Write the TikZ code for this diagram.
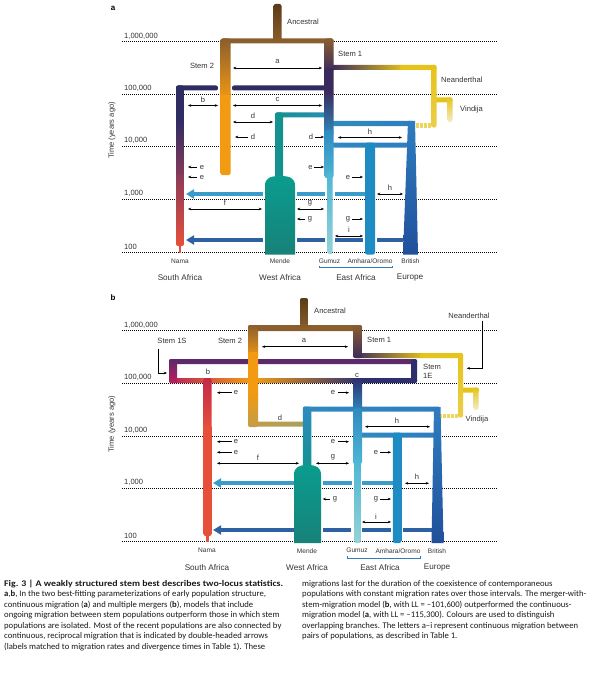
\documentclass[tikz,border=0pt]{standalone}
\usepackage{fontspec}
\setmainfont{Liberation Sans}
\newfontfamily\capfont{Carlito}
\usetikzlibrary{arrows.meta}

\definecolor{ancdark}{HTML}{5C3A18}
\definecolor{ancbrown}{HTML}{8B5E2E}
\definecolor{stemorange}{HTML}{F29A12}
\definecolor{stemone}{HTML}{3A2B5C}
\definecolor{navy}{HTML}{2F2C62}
\definecolor{midblue}{HTML}{2F8AC0}
\definecolor{skyblue}{HTML}{4DB6D4}
\definecolor{gumuzlight}{HTML}{94D2D8}
\definecolor{neanyellow}{HTML}{E6C319}
\definecolor{vindpale}{HTML}{F3EDC6}
\definecolor{namared}{HTML}{E6503A}
\definecolor{namamid}{HTML}{8C3B58}
\definecolor{mendeteal}{HTML}{13928F}
\definecolor{mendeblue}{HTML}{2A8DB6}
\definecolor{mendebulb}{HTML}{0A9C8E}
\definecolor{mendedark}{HTML}{178279}
\definecolor{britblue}{HTML}{2E7DC0}
\definecolor{britdark}{HTML}{21509B}
\definecolor{amharablue}{HTML}{1E8CC2}
\definecolor{flowlight}{HTML}{3A9CC8}
\definecolor{flowdark}{HTML}{2D61A2}
\definecolor{magentab}{HTML}{BE1D5C}
\definecolor{crimsonb}{HTML}{C42848}
\definecolor{purpleb}{HTML}{5C2A6B}
\definecolor{navyb}{HTML}{2E2F6E}
\definecolor{goldb}{HTML}{C49C48}
\definecolor{oliveb}{HTML}{A7A25A}
\definecolor{labgray}{HTML}{333333}

% branches: x, ytop, ybot, width, top colour, bottom colour
\newcommand{\vbranch}[6]{\shade[top color=#5,bottom color=#6,rounded corners=2bp] ({#1-#4/2},#2) rectangle ({#1+#4/2},#3);}
% y, xleft, xright, width, left colour, right colour
\newcommand{\hbranch}[6]{\shade[left color=#5,right color=#6,rounded corners=2bp] (#2,{#1-#4/2}) rectangle (#3,{#1+#4/2});}
% xleft, xright, ytop, ybot
\newcommand{\bulb}[4]{\shade[top color=mendebulb,bottom color=mendedark] (#1,#4) -- (#1,{#3+10}) .. controls (#1,{#3+2}) and ({#1+5},#3) .. ({(#1+#2)/2},#3) .. controls ({#2-5},#3) and (#2,{#3+2}) .. (#2,{#3+10}) -- (#2,#4) -- cycle;}

\tikzset{
  timeline/.style={line width=0.7bp, dash pattern=on 0.9bp off 1.1bp},
  mig/.style={line width=0.6bp, {Stealth[length=3.2bp,width=2.6bp]}-{Stealth[length=3.2bp,width=2.6bp]}},
  migin/.style={line width=0.6bp, -{Stealth[length=3.2bp,width=2.6bp]}},
  flow/.style={line width=4bp, -{Triangle[length=8bp,width=9bp]}},
  lbl/.style={font=\fontsize{7.6}{8}\selectfont, text=labgray, inner sep=0pt},
  poplbl/.style={font=\fontsize{6.6}{7}\selectfont, text=labgray, inner sep=0pt},
  reglbl/.style={font=\fontsize{8.2}{9}\selectfont, text=labgray, inner sep=0pt},
  panel/.style={font=\bfseries\fontsize{8}{8}\selectfont, inner sep=0pt},
  capline/.style={font=\capfont\fontsize{8.7}{9}\selectfont, text=black!90, anchor=west, inner sep=0pt}
}

\begin{document}
\begin{tikzpicture}[x=1bp,y=-1bp]
\useasboundingbox (0,0) rectangle (609,673);

%%% panel a
\node[panel] (pa) at (113,8) {a};
\foreach \yy/\lab in {41.7/{1,000,000},94.3/{100,000},146/{10,000},199.3/{1,000},252.7/{100}} {
  \draw[timeline] (122,\yy) -- (497,\yy);
  \node[lbl, anchor=west] at (124,\yy-5.5) {\lab};
}
\node[lbl, rotate=90] (tya) at (112,130.5) {Time (years ago)};

% migration flows
\draw[flowlight, line width=4bp] (365,194) -- (335,194) (325,194) -- (297,194);
\draw[flow, flowlight] (263,194) -- (186,194);
\draw[flowdark, line width=4bp] (403,240) -- (377,240) (363,240) -- (335,240) (325,240) -- (297,240);
\draw[flow, flowdark] (263,240) -- (186,240);

% horizontal bars
\hbranch{41}{221}{333.5}{5}{ancbrown}{ancbrown}
\hbranch{67.5}{331}{405}{5}{stemone}{neanyellow}
\hbranch{67.5}{400}{436.5}{5}{neanyellow}{neanyellow}
\hbranch{100}{432}{452.5}{5}{neanyellow}{neanyellow}
\draw[neanyellow!70!white, line width=4bp, dash pattern=on 3bp off 1bp] (431,125.5) -- (413,125.5);
\hbranch{88}{176}{218}{5}{navy}{navy}
\hbranch{88}{232}{331}{5}{navy}{navy}
\hbranch{115}{275}{328}{5}{mendeteal}{mendeblue}
\hbranch{123.5}{332}{414}{5}{midblue}{britblue}
\hbranch{145}{332}{408}{5}{midblue}{britblue}

% vertical lineages
\vbranch{277.5}{4}{42}{8}{ancdark}{ancbrown}
\vbranch{225.5}{38.5}{100}{10}{ancbrown}{stemorange}
\vbranch{225.5}{95}{175}{10}{stemorange}{stemorange}
\vbranch{329}{38.5}{72}{9}{ancbrown}{stemone}
\vbranch{329}{68}{96}{9}{stemone}{stemone}
\vbranch{329}{92}{135}{9}{stemone}{midblue}
\vbranch{329}{130}{178}{9}{midblue}{skyblue}
\vbranch{330}{172}{254}{5}{skyblue}{gumuzlight}
\vbranch{434}{65}{127.5}{5}{neanyellow}{neanyellow!80!white}
\vbranch{450}{97.5}{122}{5}{neanyellow}{vindpale}
\vbranch{180}{85.5}{125}{8}{navy}{navy}
\vbranch{180}{120}{180}{8}{navy}{namamid}
\vbranch{180}{175}{246}{8}{namamid}{namared}
\fill[namared] (178.7,244) rectangle (181.3,253);
\vbranch{279}{112.5}{182}{8}{mendeteal}{mendeteal}
\bulb{265}{295}{176}{254.5}
\vbranch{370}{142.5}{254.5}{10}{amharablue}{amharablue}
\shade[top color=britblue, bottom color=britdark] (408,121) -- (415,121) -- (418,254.5) -- (403,254.5) -- cycle;

% small migration arrows
\draw[mig] (233,68) -- (322,68);      \node[lbl] (ma) at (277.5,62) {a};
\draw[mig] (188,105.5) -- (218,105.5); \node[lbl] (mb) at (203,99.5) {b};
\draw[mig] (233,105.5) -- (322,105.5); \node[lbl] (mc) at (277.5,99.5) {c};
\draw[mig] (233,122) -- (273,122);    \node[lbl] (md1) at (253,116) {d};
\draw[migin] (248,137) -- (235,137);  \node[lbl] (md2) at (253,137) {d};
\draw[migin] (315,137) -- (324,137);  \node[lbl] (md3) at (311,137) {d};
\draw[mig] (338,137.5) -- (402,137.5); \node[lbl] (mh1) at (370,131.5) {h};
\draw[migin] (197,167) -- (188,167);  \node[lbl] (me1) at (202,167) {e};
\draw[migin] (197,177) -- (188,177);  \node[lbl] (me2) at (202,177) {e};
\draw[migin] (314,167) -- (324,167);  \node[lbl] (me3) at (310.5,167) {e};
\draw[migin] (352,177) -- (363,177);  \node[lbl] (me4) at (348,177) {e};
\draw[mig] (377,194) -- (403,194);    \node[lbl] (mh2) at (390,187.5) {h};
\draw[mig] (188,209) -- (262,209);    \node[lbl] (mf) at (225,203) {f};
\draw[mig] (297,209) -- (324,209);    \node[lbl] (mg1) at (310,203) {g};
\draw[migin] (305,219) -- (297,219);  \node[lbl] (mg2) at (310,219) {g};
\draw[migin] (352,219) -- (363,219);  \node[lbl] (mg3) at (348,219) {g};
\draw[mig] (335,236) -- (363,236);    \node[lbl] (mi) at (349,230) {i};

% names
\node[lbl, anchor=west] (anca) at (287,22) {Ancestral};
\node[lbl, anchor=west] (s1a) at (338,54) {Stem 1};
\node[lbl] (s2a) at (202,66) {Stem 2};
\node[lbl, anchor=west] (neaa) at (441,80) {Neanderthal};
\node[lbl, anchor=west] (vina) at (460,110) {Vindija};
\node[poplbl] (namaa) at (180,261) {Nama};
\node[poplbl] (mendea) at (280,261) {Mende};
\node[poplbl] (gumuza) at (329.5,261) {Gumuz};
\node[poplbl] (amha) at (370,261) {Amhara/Oromo};
\node[poplbl] (brita) at (410.5,261) {British};
\draw[britblue, line width=0.6bp] (319,265.5) -- (319,267.3) -- (392.5,267.3) -- (392.5,265.5);
\node[reglbl] (safa) at (180,277.7) {South Africa};
\node[reglbl] (wafa) at (280,277.7) {West Africa};
\node[reglbl] (eafa) at (356,277.7) {East Africa};
\node[reglbl] (eura) at (410,277.7) {Europe};

%%% panel b
\node[panel] (pb) at (113,298) {b};
\foreach \yy/\lab in {330.7/{1,000,000},383.3/{100,000},436/{10,000},488.3/{1,000},541.7/{100}} {
  \draw[timeline] (122,\yy) -- (497,\yy);
  \node[lbl, anchor=west] at (124,\yy-5.5) {\lab};
}
\node[lbl, rotate=90] (tyb) at (112,424) {Time (years ago)};

% migration flows
\draw[flowlight, line width=4bp] (393,483) -- (362,483) (352,483) -- (323,483);
\draw[flow, flowlight] (294,483) -- (213,483);
\draw[flowdark, line width=4bp] (432,530) -- (403,530) (390.5,530) -- (362,530) (351,530) -- (323,530);
\draw[flow, flowdark] (294,530) -- (213,530);

% horizontal bars
\hbranch{361.5}{169}{417}{5}{purpleb}{purpleb}
\hbranch{380.5}{169}{250}{5}{magentab}{stemorange}
\hbranch{380.5}{256}{360}{5}{stemorange}{navyb}
\hbranch{380.5}{355}{417}{5}{navyb}{navyb}
\hbranch{328}{248}{362}{6}{ancbrown}{ancbrown}
\hbranch{355.5}{354}{425}{5}{stemone}{neanyellow}
\hbranch{355.5}{420}{463}{5}{neanyellow}{neanyellow}
\hbranch{390}{458}{479}{5}{neanyellow}{neanyellow}
\draw[neanyellow!70!white, line width=4bp, dash pattern=on 3bp off 1bp] (458,415.5) -- (440,415.5);
\hbranch{409}{303}{440}{5}{midblue}{britblue}
\hbranch{435}{360}{437}{5}{midblue}{britblue}
\hbranch{424}{248}{305}{5}{goldb}{oliveb}

% vertical lineages
\vbranch{173}{359}{383}{8}{purpleb}{magentab}
\vbranch{414}{359}{383}{6}{navyb}{navyb}
\vbranch{304}{298}{329}{8}{ancdark}{ancbrown}
\vbranch{253}{325}{358}{10}{ancbrown}{stemorange}
\vbranch{253}{352}{398}{10}{stemorange}{stemorange}
\vbranch{253}{392}{427}{10}{stemorange}{goldb}
\vbranch{357.5}{325}{358}{9}{ancbrown}{stemone}
\vbranch{460.5}{353}{417.5}{5}{neanyellow}{neanyellow!80!white}
\vbranch{476}{387.5}{410}{5}{neanyellow}{vindpale}
\vbranch{207.5}{378}{430}{8}{crimsonb}{namared}
\vbranch{207.5}{425}{536}{8}{namared}{namared}
\fill[namared] (206.2,534) rectangle (208.8,542);
\vbranch{357.5}{378}{412}{9}{navyb}{midblue}
\vbranch{357.5}{408}{464}{9}{midblue}{skyblue}
\vbranch{357.5}{460}{543}{6.5}{skyblue}{gumuzlight}
\vbranch{307}{406.5}{470}{8.5}{midblue}{mendeteal}
\bulb{294}{321}{465}{543}
\vbranch{397}{432.5}{543}{8.5}{amharablue}{amharablue}
\shade[top color=britblue, bottom color=britdark] (434,407) -- (440.5,407) -- (443.5,543) -- (431.5,543) -- cycle;

% small migration arrows
\draw[mig] (262,346.7) -- (348,346.7); \node[lbl] (nba) at (304,340) {a};
\node[lbl] (nbb) at (208,372) {b};
\node[lbl] (nbc) at (357,375.5) {c};
\draw[migin] (232,392.7) -- (217,392.7); \node[lbl] (nbe1) at (236,392.7) {e};
\draw[migin] (338,392.7) -- (349,392.7); \node[lbl] (nbe2) at (333,392.7) {e};
\node[lbl] (nbd) at (280,418) {d};
\draw[mig] (365,426.7) -- (430,426.7); \node[lbl] (nbh1) at (397,421) {h};
\draw[migin] (232,441.7) -- (217,441.7); \node[lbl] (nbe3) at (236,441.7) {e};
\draw[migin] (232,452.3) -- (217,452.3); \node[lbl] (nbe4) at (236,452.3) {e};
\draw[migin] (338,441.7) -- (349,441.7); \node[lbl] (nbe5) at (333,441.7) {e};
\draw[migin] (380,452.3) -- (391,452.3); \node[lbl] (nbe6) at (376,452.3) {e};
\draw[mig] (217,463.3) -- (299,463.3); \node[lbl] (nbf) at (258,457.3) {f};
\draw[mig] (316,463.3) -- (349,463.3); \node[lbl] (nbg1) at (333,457.3) {g};
\draw[mig] (405,483.3) -- (429,483.3); \node[lbl] (nbh2) at (417,476.7) {h};
\draw[migin] (330,499) -- (322.7,499); \node[lbl] (nbg2) at (335,499) {g};
\draw[migin] (380,499) -- (391,499); \node[lbl] (nbg3) at (376,499) {g};
\draw[mig] (362,522) -- (391,522); \node[lbl] (nbi) at (376,516.7) {i};

% names
\node[lbl, anchor=west] (ancb) at (314,311) {Ancestral};
\node[lbl] (s1sb) at (172,340.7) {Stem 1S};
\draw[line width=0.6bp, -{Stealth[length=3.2bp,width=2.6bp]}] (158,349) -- (158,373) -- (167,373);
\node[lbl] (s2b) at (230,340.7) {Stem 2};
\node[lbl, anchor=west] (s1b) at (367,340) {Stem 1};
\node[lbl, anchor=west] (s1eb) at (423,366.7) {Stem};
\node[lbl, anchor=west] (s1eb2) at (423,376) {1E};
\node[lbl] (neab) at (469,315.7) {Neanderthal};
\draw[line width=0.6bp, -{Stealth[length=3.2bp,width=2.6bp]}] (482.7,320.7) -- (482.7,368.3) -- (466.7,368.3);
\node[lbl] (vinb) at (477,420) {Vindija};
\node[poplbl] (namab) at (207,550.7) {Nama};
\node[poplbl] (mendeb) at (307,550.7) {Mende};
\node[poplbl] (gumuzb) at (357,550.7) {Gumuz};
\node[poplbl] (amhb) at (398,550.7) {Amhara/Oromo};
\node[poplbl] (britb) at (437,550.7) {British};
\draw[britblue, line width=0.6bp] (347,556.2) -- (347,558) -- (420,558) -- (420,556.2);
\node[reglbl] (safb) at (207,567.7) {South Africa};
\node[reglbl] (wafb) at (307,567.7) {West Africa};
\node[reglbl] (eafb) at (380,567.7) {East Africa};
\node[reglbl] (eurb) at (437,567.7) {Europe};

%%% caption
\node[capline] (c1) at (4,584) {\scalebox{1.14}[1]{\textbf{Fig. 3 | A weakly structured stem best describes two-locus statistics.}}};
\node[capline] (c2) at (4,594.5) {\textbf{a},\textbf{b}, In the two best-fitting parameterizations of early population structure,};
\node[capline] (c3) at (4,605) {continuous migration (\textbf{a}) and multiple mergers (\textbf{b}), models that include};
\node[capline] (c4) at (4,615.5) {ongoing migration between stem populations outperform those in which stem};
\node[capline] (c5) at (4,626) {populations are isolated. Most of the recent populations are also connected by};
\node[capline] (c6) at (4,636.5) {continuous, reciprocal migration that is indicated by double-headed arrows};
\node[capline] (c7) at (4,647) {(labels matched to migration rates and divergence times in Table 1). These};
\node[capline] (d1) at (302,584) {migrations last for the duration of the coexistence of contemporaneous};
\node[capline] (d2) at (302,594.5) {populations with constant migration rates over those intervals. The merger-with-};
\node[capline] (d3) at (302,605) {stem-migration model (\textbf{b}, with LL = –101,600) outperformed the continuous-};
\node[capline] (d4) at (302,615.5) {migration model (\textbf{a}, with LL = –115,300). Colours are used to distinguish};
\node[capline] (d5) at (302,626) {overlapping branches. The letters a–i represent continuous migration between};
\node[capline] (d6) at (302,636.5) {pairs of populations, as described in Table 1.};
\end{tikzpicture}
\end{document}
